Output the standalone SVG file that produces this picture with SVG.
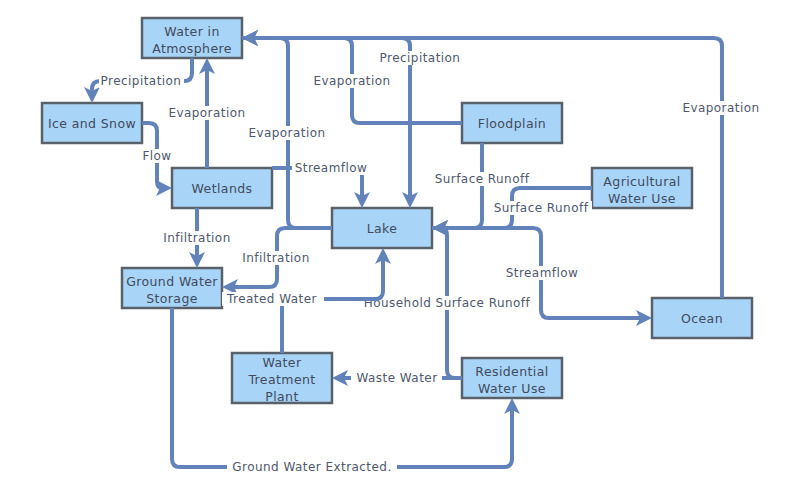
<svg xmlns="http://www.w3.org/2000/svg" width="800" height="493" viewBox="0 0 800 493">
<defs>
<style>
.node rect{fill:#a8d4f7;stroke:#58606a;stroke-width:2.5}
.node text{font-family:"DejaVu Sans",sans-serif;font-size:12.5px;letter-spacing:0.4px;fill:#414a5e;text-anchor:middle;dominant-baseline:central}
.edge path{fill:none;stroke:#6282ba;stroke-width:4;stroke-linejoin:round;marker-end:url(#ah)}
.edge rect{fill:#ffffff}
.edge text{font-family:"DejaVu Sans",sans-serif;font-size:12px;letter-spacing:0.45px;fill:#4f586c;text-anchor:middle;dominant-baseline:central}
</style>
<marker id="ah" viewBox="0 0 16 16" refX="6" refY="8" markerWidth="16" markerHeight="16" markerUnits="userSpaceOnUse" orient="auto">
<path d="M0,0 L16,8 L0,16 L4,8 Z" fill="#6282ba"/>
</marker>
</defs>
<rect width="800" height="493" fill="#ffffff"/>

<g id="atmosphere" class="node"><rect x="142" y="18" width="100" height="40"/><text x="192" y="31">Water in</text><text x="192" y="48">Atmosphere</text></g>
<g id="ice" class="node"><rect x="42" y="103" width="100" height="40"/><text x="92" y="123">Ice and Snow</text></g>
<g id="wetlands" class="node"><rect x="172" y="168" width="100" height="40"/><text x="222" y="188">Wetlands</text></g>
<g id="lake" class="node"><rect x="332" y="208" width="100" height="40"/><text x="382" y="228">Lake</text></g>
<g id="floodplain" class="node"><rect x="462" y="103" width="100" height="40"/><text x="512" y="123">Floodplain</text></g>
<g id="agricultural" class="node"><rect x="592" y="168" width="100" height="40"/><text x="642" y="181">Agricultural</text><text x="642" y="198">Water Use</text></g>
<g id="groundwater" class="node"><rect x="122" y="268" width="100" height="40"/><text x="172" y="281">Ground Water</text><text x="172" y="298">Storage</text></g>
<g id="treatment" class="node"><rect x="232" y="353" width="100" height="50"/><text x="282" y="362">Water</text><text x="282" y="379">Treatment</text><text x="282" y="396">Plant</text></g>
<g id="residential" class="node"><rect x="462" y="358" width="100" height="40"/><text x="512" y="371">Residential</text><text x="512" y="388">Water Use</text></g>
<g id="ocean" class="node"><rect x="652" y="298" width="100" height="40"/><text x="702" y="318">Ocean</text></g>

<g id="connectors" class="edge">
<path d="M192,58 V73 Q192,81 184,81 H100 Q92,81 92,89 V93"/>
<rect x="99" y="74" width="85" height="14"/><text x="141" y="81">Precipitation</text>

<path d="M142,123 H149 Q157,123 157,131 V181 Q157,188 162,188"/>
<rect x="142" y="149" width="30" height="14"/><text x="157" y="156">Flow</text>

<path d="M207,168 V68"/>
<rect x="168" y="106" width="78" height="14"/><text x="207" y="113">Evaporation</text>

<path d="M197,208 V258"/>
<rect x="157" y="231" width="79" height="14"/><text x="197" y="238">Infiltration</text>

<path d="M272,168 H354 Q362,168 362,176 V198"/>

<path d="M462,123 H360 Q352,123 352,115 V46 Q352,38 344,38 H252"/>
<rect x="314" y="74" width="76" height="14"/><text x="352" y="81">Evaporation</text>

<path d="M332,228 H296 Q288,228 288,220 V46 Q288,38 280,38 H252"/>
<rect x="248" y="126" width="77" height="14"/><text x="287" y="133">Evaporation</text>

<rect x="292" y="161" width="79" height="14"/><text x="331" y="168">Streamflow</text>

<path d="M722,298 V46 Q722,38 714,38 H252"/>
<rect x="683" y="101" width="77" height="14"/><text x="721" y="108">Evaporation</text>

<path d="M242,38 H402 Q410,38 410,46 V198"/>
<rect x="378" y="51" width="85" height="14"/><text x="420" y="58">Precipitation</text>

<path d="M482,143 V220 Q482,228 474,228 H442"/>
<rect x="431" y="172" width="102" height="14"/><text x="482" y="179">Surface Runoff</text>

<path d="M592,188 H520 Q512,188 512,196 V220 Q512,228 504,228 H442"/>
<rect x="491" y="201" width="101" height="14"/><text x="541" y="208">Surface Runoff</text>

<path d="M432,228 H533 Q541,228 541,236 V310 Q541,318 549,318 H642"/>
<rect x="503" y="266" width="78" height="14"/><text x="542" y="273">Streamflow</text>

<path d="M332,228 H285 Q277,228 277,236 V279 Q277,287 269,287 H232"/>
<rect x="237" y="251" width="78" height="14"/><text x="276" y="258">Infiltration</text>

<path d="M462,378 H455 Q447,378 447,370 V236 Q447,228 442,228"/>
<rect x="361" y="296" width="172" height="14"/><text x="447" y="303">Household Surface Runoff</text>

<path d="M282,353 V299 H375 Q383,299 383,291 V258"/>
<rect x="222" y="292" width="102" height="14"/><text x="272" y="299">Treated Water</text>

<path d="M462,378 H342"/>
<rect x="351" y="371" width="91" height="14"/><text x="397" y="378">Waste Water</text>

<path d="M172,308 V459 Q172,467 180,467 H504 Q512,467 512,459 V408"/>
<rect x="227" y="460" width="170" height="14"/><text x="312" y="467">Ground Water Extracted.</text>
</g>
</svg>
